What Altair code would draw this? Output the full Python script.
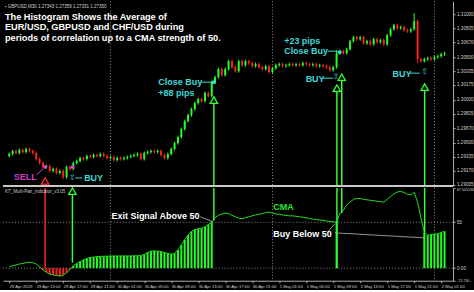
import altair as alt
import pandas as pd

# ---------------- data ----------------
# GBPUSD M30 closes, 29 Apr 2019 09:00 onwards
close = [
    1.29367, 1.29402, 1.29379, 1.29414, 1.29390, 1.29425, 1.29402, 1.29379, 1.29309, 1.29262,
    1.29215, 1.29227, 1.29169, 1.29192, 1.29145, 1.29169, 1.29099, 1.29215, 1.29192, 1.29262,
    1.29285, 1.29320, 1.29309, 1.29344, 1.29332, 1.29355, 1.29344, 1.29367, 1.29344, 1.29320,
    1.29332, 1.29297, 1.29320, 1.29309, 1.29320, 1.29332, 1.29344, 1.29355, 1.29367, 1.29309,
    1.29379, 1.29390, 1.29402, 1.29390, 1.29402, 1.29355, 1.29320, 1.29367, 1.29425, 1.29495,
    1.29565, 1.29659, 1.29752, 1.29822, 1.29892, 1.29962, 1.30009, 1.29985, 1.30079, 1.30044,
    1.30207, 1.30265, 1.30359, 1.30289, 1.30359, 1.30452, 1.30382, 1.30335, 1.30452, 1.30405,
    1.30452, 1.30429, 1.30394, 1.30417, 1.30382, 1.30359, 1.30394, 1.30324, 1.30370, 1.30405,
    1.30417, 1.30394, 1.30405, 1.30417, 1.30405, 1.30417, 1.30405, 1.30429, 1.30417, 1.30405,
    1.30417, 1.30394, 1.30405, 1.30394, 1.30382, 1.30347, 1.30382, 1.30545, 1.30569, 1.30545,
    1.30592, 1.30685, 1.30732, 1.30709, 1.30732, 1.30662, 1.30685, 1.30650, 1.30709, 1.30674,
    1.30697, 1.30650, 1.30755, 1.30825, 1.30872, 1.30837, 1.30849, 1.30814, 1.30802, 1.30825,
    1.30919, 1.30475, 1.30452, 1.30475, 1.30487, 1.30475, 1.30499, 1.30510, 1.30534, 1.30545,
]
first_open = 1.29344
wick = 0.00018
extra_high = {120: 1.31012, 97: 1.30580}
extra_low = {16: 1.29075, 17: 1.29075, 121: 1.30429}

# KT multi-pair indicator: CMA strength per bar
cma = [
    1.5, 2.5, 3.5, 4.5, 5.0, 6.0, 6.5, 6.0, 4.5, 1.5,
    -2.0, -4.5, -6.5, -7.5, -8.0, -8.7, -7.5, -5.0, -1.5, 2.5,
    5.0, 7.0, 9.0, 10.5, 11.5, 12.0, 12.5, 12.8, 13.0, 13.0,
    13.2, 13.2, 13.2, 13.3, 13.3, 13.2, 13.3, 13.4, 13.5, 13.6,
    15.0, 17.0, 18.5, 18.8, 18.5, 18.0, 17.0, 16.0, 15.2, 16.0,
    20.0, 25.0, 31.0, 36.0, 40.0, 42.0, 43.0, 43.5, 45.0, 47.5,
    50.0, 55.0, 57.6, 59.0, 60.0, 59.5, 57.6, 56.0, 54.5, 54.0,
    55.0, 56.0, 57.0, 58.0, 58.7, 59.5, 60.5, 61.0, 60.0, 59.0,
    58.7, 58.0, 57.5, 57.0, 57.0, 56.5, 56.0, 55.5, 55.0, 54.0,
    53.5, 53.0, 52.5, 52.0, 51.5, 51.0, 50.5, 50.0, 60.0, 63.0,
    69.0, 72.0, 75.0, 76.0, 76.0, 75.0, 74.5, 74.0, 73.5, 73.0,
    72.5, 72.0, 75.0, 78.0, 81.0, 83.0, 83.7, 82.5, 80.5, 80.0,
    82.6, 72.0, 55.0, 39.0, 36.0, 36.5, 37.0, 37.5, 39.0, 40.0,
]
hist_spans = [(10, 60), (97, 97), (123, 129)]

price_ticks = [1.31000, 1.30835, 1.30670, 1.30500, 1.30335, 1.30175, 1.30000,
               1.29835, 1.29670, 1.29500, 1.29335, 1.29170, 1.29005]
ind_ticks = [87.505136, 50, 0, -13.730805]
time_ticks = ["2019-04-29 09:00", "2019-04-29 13:00", "2019-04-29 17:00", "2019-04-29 21:00",
              "2019-04-30 01:00", "2019-04-30 05:00", "2019-04-30 09:00", "2019-04-30 13:00",
              "2019-04-30 17:00", "2019-04-30 21:00", "2019-05-01 01:00", "2019-05-01 05:00",
              "2019-05-01 09:00", "2019-05-01 13:00", "2019-05-01 17:00", "2019-05-01 21:00",
              "2019-05-02 01:00"]
day_lines = ["2019-04-30 00:00", "2019-05-01 00:00", "2019-05-02 00:00"]

title_text = ("The Histogram Shows the Average of\n"
              "EUR/USD, GBPUSD and CHF/USD during\n"
              "periods of correlation up to a CMA strength of 50.")
header = "\u25aa GBPUSD,M30  1.27343 1.27359 1.27331 1.27350"
indicator_name = "KT_Multi-Pair_Indicator_v3.05"

CYAN = "#3fd8d8"
MAGENTA = "#d23ad2"

# annotations on the price window: time, price, text, colour
price_notes = pd.DataFrame([
    ("2019-04-30 07:05", 1.30207, "Close Buy", CYAN),
    ("2019-04-30 07:05", 1.30079, "+88 pips", CYAN),
    ("2019-05-01 01:44", 1.30685, "+23 pips", CYAN),
    ("2019-05-01 01:44", 1.30569, "Close Buy", CYAN),
    ("2019-05-01 04:55", 1.30242, "BUY", CYAN),
    ("2019-05-01 17:47", 1.30300, "BUY", CYAN),
    ("2019-04-29 09:41", 1.29099, "SELL", MAGENTA),
    ("2019-04-29 20:06", 1.29087, "BUY", CYAN),
], columns=["t", "p", "text", "col"])

price_links = pd.DataFrame([
    ("2019-04-30 13:26", 1.30207, "2019-04-30 15:02", 1.30207, CYAN),
    ("2019-05-01 08:14", 1.30569, "2019-05-01 09:41", 1.30569, CYAN),
    ("2019-05-01 07:30", 1.30253, "2019-05-01 08:58", 1.30253, CYAN),
    ("2019-05-01 20:24", 1.30312, "2019-05-01 21:50", 1.30312, CYAN),
    ("2019-04-29 18:48", 1.29087, "2019-04-29 19:48", 1.29087, CYAN),
    ("2019-04-29 13:01", 1.29122, "2019-04-29 14:01", 1.29192, MAGENTA),
], columns=["t", "p", "t2", "p2", "col"])

close_dots = pd.DataFrame([
    ("2019-04-30 15:19", 1.30207, CYAN),
    ("2019-05-01 09:58", 1.30557, CYAN),
    ("2019-04-29 18:22", 1.29215, "#e040e0"),
    ("2019-04-29 14:19", 1.29215, "#e040e0"),
], columns=["t", "p", "col"])

buy_marks = pd.DataFrame([
    ("2019-05-01 09:24", 1.30265),
    ("2019-05-01 22:33", 1.30324),
    ("2019-04-29 18:22", 1.29087),
], columns=["t", "p"])

# signal arrows: time, head price (price window), end value (indicator window), colour
arrows = pd.DataFrame([
    ("2019-04-29 14:19", 1.29052, 0.0, "#ff2a2a"),
    ("2019-04-30 15:19", 1.29997, 52.0, "#33ff33"),
    ("2019-05-01 09:33", 1.30137, 0.0, "#33ff33"),
    ("2019-05-01 10:16", 1.30265, 60.0, "#33ff33"),
    ("2019-05-01 22:33", 1.30149, 39.0, "#33ff33"),
], columns=["t", "p", "end", "col"])
low_arrow = pd.DataFrame([("2019-04-29 18:22", 84.0, 6.0, "#33ff33")],
                         columns=["t", "v", "end", "col"])

ind_notes = pd.DataFrame([
    ("2019-05-01 00:08", 66.8, "CMA", "#22ee22"),
    ("2019-04-30 00:09", 57.0, "Exit Signal Above 50", "#ffffff"),
    ("2019-05-01 00:08", 37.4, "Buy Below 50", "#ffffff"),
], columns=["t", "v", "text", "col"])
ind_links = pd.DataFrame([
    ("2019-04-30 13:18", 56.0, "2019-04-30 15:11", 50.5),
    ("2019-05-01 08:05", 38.5, "2019-05-01 09:15", 48.5),
    ("2019-05-01 09:15", 38.5, "2019-05-01 22:33", 33.0),
], columns=["t", "v", "t2", "v2"])

# ---------------- tables ----------------
times = pd.date_range("2019-04-29 09:00", periods=len(close), freq="30min")
opens = [first_open] + close[:-1]
candles = pd.DataFrame({"t": times, "o": opens, "c": close})
candles["h"] = [extra_high.get(i, max(o, c) + wick) for i, (o, c) in enumerate(zip(opens, close))]
candles["l"] = [extra_low.get(i, min(o, c) - wick) for i, (o, c) in enumerate(zip(opens, close))]

ind = pd.DataFrame({"t": times, "v": cma})
shown = set()
for a, b in hist_spans:
    shown.update(range(a, b + 1))
hist = ind[ind.index.isin(shown)]

grid = pd.DataFrame({"t": pd.to_datetime(day_lines)})


def dt(s):
    ts = pd.Timestamp(s)
    return alt.DateTime(year=ts.year, month=ts.month, date=ts.day, hours=ts.hour,
                        minutes=ts.minute)


# ---------------- scales & axes ----------------
xscale = alt.Scale(domain=[dt("2019-04-29 08:49"), dt("2019-05-02 02:01")])
pscale = alt.Scale(domain=[1.28994, 1.31152], zero=False, nice=False)
iscale = alt.Scale(domain=[-13.730805, 87.505136], zero=False, nice=False)

GREEN = "#22ff22"
RED = "#ff2020"
W, H1, H2 = 451, 185, 93

AX = dict(labelColor="#d0d0d0", labelFont="Liberation Sans", labelOverlap=False,
          tickSize=2, tickColor="#b0b0b0", domainColor="#b0b0b0", grid=False, title=None)

price_axis = alt.Axis(orient="right", values=price_ticks, format=".5f", labelPadding=1.5,
                      labelFontSize=4.6, labelLimit=17, **AX)
ind_axis = alt.Axis(orient="right", values=ind_ticks, labelPadding=1.5, labelLimit=17,
                    labelFontSize=alt.condition("datum.value > 80 || datum.value < -1",
                                                alt.value(3.6), alt.value(4.6)),
                    labelBaseline=alt.condition("datum.value > 80", alt.value("top"),
                                                alt.value("middle")),
                    labelExpr="datum.value > 80 ? '87.505136' : datum.value > 10 ? '50' : "
                              "datum.value > -1 ? '0.00' : '-13.730805'", **AX)
time_axis = alt.Axis(values=[dt(s) for s in time_ticks],
                     labelExpr="date(datum.value) == 29 && hours(datum.value) == 9 ? '29 Apr 2019'"
                               " : timeFormat(datum.value, '%-d %b %H:%M')",
                     labelAlign="left", labelPadding=2, labelFlush=False, labelFontSize=4.2,
                     **AX)


def X(field="t"):
    return alt.X(f"{field}:T", scale=xscale, axis=None)


def P(field="p"):
    return alt.Y(f"{field}:Q", scale=pscale, axis=price_axis)


def XL(field="t"):
    return alt.X(f"{field}:T", scale=xscale, axis=time_axis)


def V(field="v"):
    return alt.Y(f"{field}:Q", scale=iscale, axis=ind_axis)


# ---------------- price window ----------------
updown = alt.condition("datum.c >= datum.o", alt.value(GREEN), alt.value(RED))

wicks = alt.Chart(candles).mark_rule(strokeWidth=1).encode(
    x=X(), y=P("l"), y2="h:Q", color=updown)
bodies = alt.Chart(candles).mark_bar(size=2).encode(
    x=X(), y=P("o"), y2="c:Q", color=updown)

vgrid_top = alt.Chart(grid).mark_rule(color="#8a8a8a", strokeDash=[1, 2], strokeWidth=1).encode(x=X())

sep = alt.Chart(pd.DataFrame({"p": [1.28994]})).mark_rule(color="#c8c8c8", strokeWidth=2).encode(
    y=P(), x=alt.value(0), x2=alt.value(W))

notes = alt.Chart(price_notes).mark_text(align="left", baseline="middle", fontSize=9,
                                          fontWeight="bold", font="Liberation Sans").encode(
    x=X(), y=P(), text="text:N", color=alt.Color("col:N", scale=None))
links = alt.Chart(price_links).mark_rule(strokeWidth=1).encode(
    x=X(), x2="t2:T", y=P(), y2="p2:Q", color=alt.Color("col:N", scale=None))
dots = alt.Chart(close_dots).mark_point(filled=True, size=14, opacity=1).encode(
    x=X(), y=P(), color=alt.Color("col:N", scale=None))
buys = alt.Chart(buy_marks).mark_text(text="\u21e7", fontSize=8, color=CYAN,
                                      font="DejaVu Sans").encode(x=X(), y=P())

stems = alt.Chart(arrows).mark_rule(strokeWidth=1.5).encode(
    x=X(), y=P(), y2=alt.value(H1), color=alt.Color("col:N", scale=None))
heads = alt.Chart(arrows).mark_point(shape="triangle-up", filled=True, size=55, opacity=1,
                                     strokeWidth=1.3, fill="black").encode(
    x=X(), y=P(), stroke=alt.Color("col:N", scale=None))

title = alt.Chart(pd.DataFrame({"s": [title_text]})).mark_text(
    align="left", baseline="top", fontSize=9.2, fontWeight="bold", color="white",
    font="Liberation Sans", lineBreak="\n", lineHeight=10.4).encode(
    x=alt.value(2), y=alt.value(11.5), text="s:N")
head_txt = alt.Chart(pd.DataFrame({"s": [header]})).mark_text(
    align="left", baseline="middle", fontSize=4.5, color="#d0d0d0", font="Liberation Sans").encode(
    x=alt.value(2), y=alt.value(6), text="s:N")

top = alt.layer(vgrid_top, wicks, bodies, stems, heads, links, dots, buys, notes, sep, title,
                head_txt).properties(width=W, height=H1)

# ---------------- indicator window ----------------
hgrid = alt.Chart(pd.DataFrame({"v": [50, 0]})).mark_rule(
    color="#8a8a8a", strokeDash=[1, 2]).encode(y=V(), x=alt.value(0), x2=alt.value(W))
vgrid_low = alt.Chart(grid).mark_rule(color="#8a8a8a", strokeDash=[1, 2]).encode(x=XL())

histo = alt.Chart(hist).mark_bar(size=2).encode(
    x=XL(), y=V("v"), y2=alt.datum(0),
    color=alt.condition("datum.v < 0", alt.value(RED), alt.value(GREEN)))
line = alt.Chart(ind).mark_line(color="#22dd22", strokeWidth=1).encode(x=XL(), y=V())

low_stems = alt.Chart(arrows).mark_rule(strokeWidth=1.5).encode(
    x=XL(), y=V("end"), y2=alt.value(0), color=alt.Color("col:N", scale=None))
low_stem2 = alt.Chart(low_arrow).mark_rule(strokeWidth=1.5).encode(
    x=XL(), y=V(), y2="end:Q", color=alt.Color("col:N", scale=None))
low_head = alt.Chart(low_arrow).mark_point(shape="triangle-up", filled=True, size=55, opacity=1,
                                           strokeWidth=1.3, fill="black").encode(
    x=XL(), y=V(), stroke=alt.Color("col:N", scale=None))

inotes = alt.Chart(ind_notes).mark_text(align="left", baseline="middle", fontSize=9,
                                        fontWeight="bold", font="Liberation Sans").encode(
    x=XL(), y=V(), text="text:N", color=alt.Color("col:N", scale=None))
ilinks = alt.Chart(ind_links).mark_rule(color="#b8b8b8", strokeWidth=0.8).encode(
    x=XL(), x2="t2:T", y=V(), y2="v2:Q")
iname = alt.Chart(pd.DataFrame({"s": [indicator_name]})).mark_text(
    align="left", baseline="middle", fontSize=4.5, color="#c8c8c8", font="Liberation Sans").encode(
    x=alt.value(2), y=alt.value(4), text="s:N")

bottom = alt.layer(hgrid, vgrid_low, histo, line, low_stems, low_stem2, low_head, ilinks, inotes,
                   iname).properties(width=W, height=H2)

chart = alt.vconcat(top, bottom, spacing=2, bounds="flush").properties(
    background="black", padding={"left": 2, "top": 0, "right": 0, "bottom": 0}
).configure_view(stroke=None)

chart.save("out.html", embed_options={"renderer": "svg", "actions": False})
